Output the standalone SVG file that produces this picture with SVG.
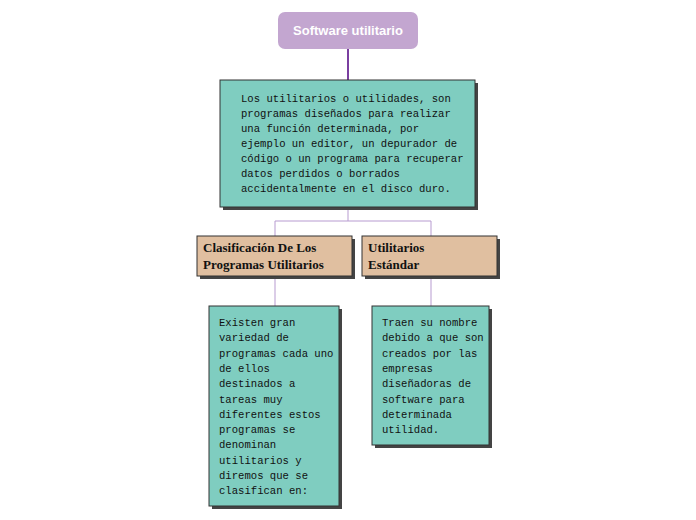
<svg xmlns="http://www.w3.org/2000/svg" width="696" height="520" viewBox="0 0 696 520">
<style>
.box{fill:#7fcdc0;stroke:#333;stroke-width:1}
.hd{fill:#e0bfa0;stroke:#333;stroke-width:1}
.sh{fill:#444}
.t{font-family:"Liberation Mono",monospace;font-size:10.6px;fill:#111}
.h{font-family:"Liberation Serif",serif;font-weight:bold;font-size:13px;fill:#111}
.c{fill:none;stroke:#b79bd0;stroke-width:1}
</style>
<rect width="696" height="520" fill="#fff"/>
<g id="connectors">
<line x1="348" y1="49" x2="348" y2="80" stroke="#7a3fa0" stroke-width="2"/>
<path class="c" d="M348 207V221M275 236V221H431V236M275 276V306M431 276V306"/>
</g>
<g id="n-top">
<rect x="278" y="12" width="140" height="37" rx="7" fill="#c3a6d0"/>
<text x="348" y="35" text-anchor="middle" font-family="Liberation Sans,sans-serif" font-weight="bold" font-size="13" fill="#fff">Software utilitario</text>
</g>
<g id="n-main">
<rect class="sh" x="223" y="83" width="255" height="127"/>
<rect class="box" x="220" y="80" width="255" height="127"/>
<text class="t"><tspan x="241" y="102">Los utilitarios o utilidades, son</tspan><tspan x="241" y="117">programas diseñados para realizar</tspan><tspan x="241" y="132">una función determinada, por</tspan><tspan x="241" y="147">ejemplo un editor, un depurador de</tspan><tspan x="241" y="162">código o un programa para recuperar</tspan><tspan x="241" y="177">datos perdidos o borrados</tspan><tspan x="241" y="192">accidentalmente en el disco duro.</tspan></text>
</g>
<g id="n-clas">
<rect class="sh" x="200" y="239" width="155" height="40"/>
<rect class="hd" x="197" y="236" width="155" height="40"/>
<text class="h"><tspan x="203" y="252">Clasificación De Los</tspan><tspan x="203" y="269">Programas Utilitarios</tspan></text>
</g>
<g id="n-est">
<rect class="sh" x="365" y="239" width="135" height="40"/>
<rect class="hd" x="362" y="236" width="135" height="40"/>
<text class="h"><tspan x="368" y="252">Utilitarios</tspan><tspan x="368" y="269">Estándar</tspan></text>
</g>
<g id="n-left">
<rect class="sh" x="212" y="309" width="130" height="200"/>
<rect class="box" x="209" y="306" width="130" height="200"/>
<text class="t"><tspan x="219" y="326">Existen gran</tspan><tspan x="219" y="341.3">variedad de</tspan><tspan x="219" y="356.6">programas cada uno</tspan><tspan x="219" y="371.9">de ellos</tspan><tspan x="219" y="387.2">destinados a</tspan><tspan x="219" y="402.5">tareas muy</tspan><tspan x="219" y="417.8">diferentes  estos</tspan><tspan x="219" y="433.1">programas se</tspan><tspan x="219" y="448.4">denominan</tspan><tspan x="219" y="463.7">utilitarios y</tspan><tspan x="219" y="479">diremos que se</tspan><tspan x="219" y="494.3">clasifican en:</tspan></text>
</g>
<g id="n-right">
<rect class="sh" x="375" y="309" width="117" height="139"/>
<rect class="box" x="372" y="306" width="117" height="139"/>
<text class="t"><tspan x="382" y="326">Traen su nombre</tspan><tspan x="382" y="341.3">debido a que son</tspan><tspan x="382" y="356.6">creados por las</tspan><tspan x="382" y="371.9">empresas</tspan><tspan x="382" y="387.2">diseñadoras de</tspan><tspan x="382" y="402.5">software para</tspan><tspan x="382" y="417.8">determinada</tspan><tspan x="382" y="433.1">utilidad.</tspan></text>
</g>
</svg>
